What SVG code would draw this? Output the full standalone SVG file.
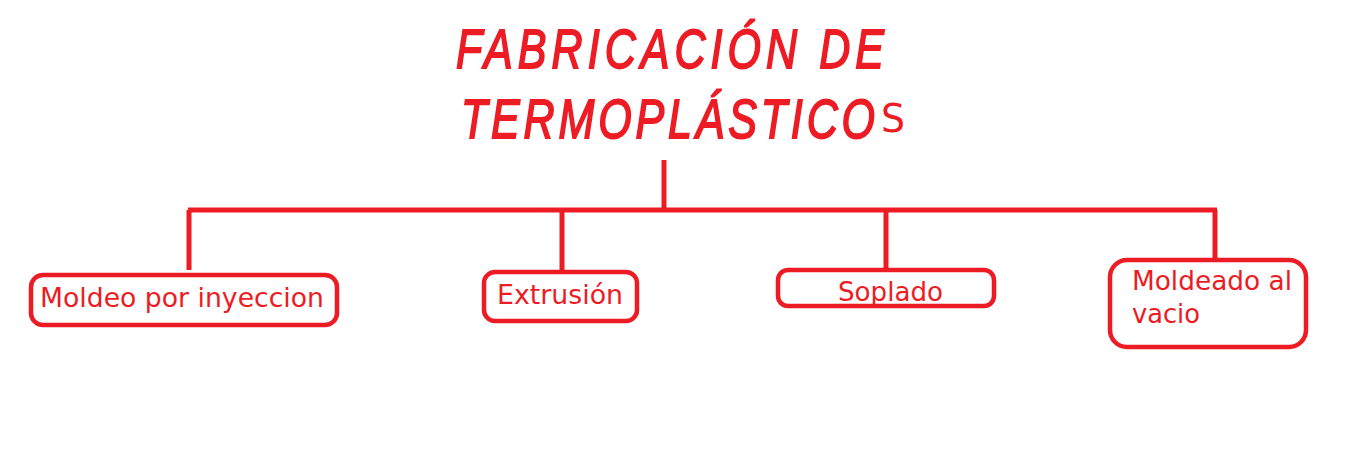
<svg xmlns="http://www.w3.org/2000/svg" width="1348" height="466" viewBox="0 0 1348 466">
<style>
.t{fill:#ED1C24;stroke:#ED1C24;stroke-width:1.4;font-family:"Liberation Sans",Arial,sans-serif;font-style:italic;font-size:43px}
.l{fill:#ED1C24;font-family:"DejaVu Sans","Liberation Sans",sans-serif;font-size:27px}
.b{fill:none;stroke:#ED1C24;stroke-width:4.5}
.c{fill:none;stroke:#ED1C24;stroke-width:5}
</style>
<rect width="1348" height="466" fill="#ffffff"/>
<g id="title">
<text class="t" transform="translate(456,68) scale(1,1.3)" x="0" y="0" textLength="428" lengthAdjust="spacing">FABRICACIÓN DE</text>
<text class="t" transform="translate(461,138) scale(1,1.3)" x="0" y="0" textLength="414" lengthAdjust="spacing">TERMOPLÁSTICO</text>
<text class="l" x="881" y="132" textLength="24" lengthAdjust="spacingAndGlyphs" style="font-size:39px">S</text>
</g>
<g id="connectors">
<path class="c" d="M664 160V210M188 210H1217M189 210V270M562 210V271M886 210V269M1215 210V259"/>
</g>
<g id="n1">
<rect class="b" x="31" y="275" width="306" height="50" rx="12"/>
<text class="l" x="40" y="307" textLength="284" lengthAdjust="spacingAndGlyphs">Moldeo por inyeccion</text>
</g>
<g id="n2">
<rect class="b" x="484" y="272" width="153" height="49" rx="11"/>
<text class="l" x="497" y="304" textLength="126" lengthAdjust="spacingAndGlyphs">Extrusión</text>
</g>
<g id="n3">
<rect class="b" x="778" y="270" width="216" height="36" rx="10"/>
<text class="l" x="838" y="301" textLength="105" lengthAdjust="spacingAndGlyphs">Soplado</text>
</g>
<g id="n4">
<rect class="b" x="1110" y="260" width="196" height="87" rx="17"/>
<text class="l" x="1132" y="290" textLength="160" lengthAdjust="spacingAndGlyphs">Moldeado al</text>
<text class="l" x="1132" y="323" textLength="68" lengthAdjust="spacingAndGlyphs">vacio</text>
</g>
</svg>
